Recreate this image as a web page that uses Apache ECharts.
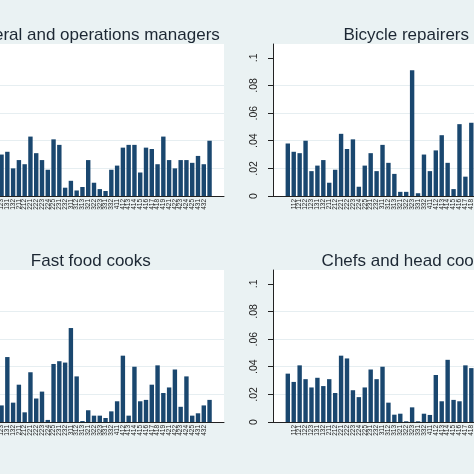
<!DOCTYPE html>
<html lang="en">
<head>
    <meta charset="UTF-8">
    <title>Occupation shares</title>
    <style>
        html, body {margin: 0; padding: 0; width: 474px; height: 474px; overflow: hidden; background: #eaf2f3;}
        #main {position: absolute; left: -60px; top: 0; width: 640px; height: 474px;}
    </style>
</head>
<body>
<div id="main"></div>
<script src="https://cdn.jsdelivr.net/npm/echarts@6/dist/echarts.min.js"></script>
<script>
    // category codes (x axis)
    var codes = ['111','112','121','122','123','131','132',
        '211','212','221','222','223','224','225','231','232',
        '311','312','313','321','322','323','331','332',
        '411','412','413','414','415','416','417','418','419','421','422','423','424','425','431','432','433'];

    var titles = ['General and operations managers', 'Bicycle repairers', 'Fast food cooks', 'Chefs and head cooks'];

    var managers = [0.028,0.035,0.024,0.041,0.030,0.032,0.020,0.026,0.023,0.043,0.031,0.026,0.019,0.041,0.037,
        0.006,0.011,0.004,0.0065,0.026,0.0096,0.005,0.0036,0.019,0.022,0.035,0.037,0.037,0.017,0.035,0.034,
        0.023,0.043,0.026,0.020,0.026,0.026,0.024,0.029,0.023,0.040];
    var bicycle = [0.038,0.032,0.031,0.040,0.018,0.022,0.026,0.0096,0.019,0.045,0.034,0.041,0.0067,0.022,0.031,
        0.018,0.037,0.024,0.016,0.003,0.003,0.091,0.002,0.030,0.018,0.033,0.044,0.024,0.005,0.052,0.014,
        0.053,0.021,0.036,0.012,0.027,0.044,0.019,0.031,0.008,0.025];
    var fastfood = [0.031,0.019,0.042,0.026,0.012,0.047,0.014,0.027,0.007,0.036,0.017,0.022,0.0015,0.042,0.044,
        0.043,0.068,0.033,0.0007,0.0085,0.0046,0.0046,0.0029,0.0077,0.015,0.048,0.0046,0.040,0.015,0.016,0.027,
        0.041,0.021,0.025,0.038,0.011,0.033,0.0046,0.0063,0.012,0.016];
    var chefs = [0.035,0.029,0.041,0.031,0.025,0.032,0.026,0.031,0.021,0.048,0.046,0.023,0.018,0.025,0.038,
        0.031,0.040,0.014,0.0053,0.006,0.0005,0.0106,0.0005,0.006,0.0051,0.034,0.015,0.045,0.016,0.015,0.041,
        0.039,0.022,0.030,0.012,0.018,0.036,0.009,0.026,0.014,0.020];

    var yTicks = [0, 0.02, 0.04, 0.06, 0.08, 0.1];

    var panels = [managers, bicycle, fastfood, chefs];
    var lefts = [17.6, 333, 17.6, 333];
    var tops = [44, 44, 270, 270];
    var plotW = 266.4, plotH = 152;

    var myChart = echarts.init(document.getElementById('main'));

    var grid = [], xAxis = [], yAxis = [], series = [], title = [];
    var idx = codes.map(function (c, i) { return i; });

    panels.forEach(function (vals, k) {
        grid.push({
            left: lefts[k], top: tops[k], width: plotW, height: plotH,
            show: true, backgroundColor: '#ffffff', borderWidth: 0
        });
        title.push({
            text: titles[k],
            left: lefts[k] + plotW / 2, top: tops[k] - 17.5,
            textAlign: 'center', padding: 0,
            textStyle: {fontFamily: 'Liberation Sans', fontSize: 17, fontWeight: 'normal', color: '#1c2733'}
        });
        xAxis.push({
            type: 'value', gridIndex: k, min: -2.5, max: 42.5,
            axisLine: {show: true, onZero: false, lineStyle: {color: '#222', width: 1}},
            axisTick: {show: false},
            splitLine: {show: false},
            axisLabel: {
                customValues: idx, rotate: 90, fontSize: 6.5, margin: 3,
                fontFamily: 'Liberation Sans', color: '#222',
                formatter: function (v) { return codes[v]; }
            }
        });
        yAxis.push({
            type: 'value', gridIndex: k, min: 0, max: 0.11,
            axisLine: {show: true, onZero: false, lineStyle: {color: '#222', width: 1}},
            axisTick: {show: true, length: 5, customValues: yTicks, lineStyle: {color: '#222'}},
            splitLine: {show: true, showMaxLine: false, lineStyle: {color: '#e6eef1', width: 1}},
            axisLabel: {
                customValues: yTicks, rotate: 90, fontSize: 10.5, margin: 13,
                fontFamily: 'Liberation Sans', color: '#222',
                formatter: function (v) { return v === 0 ? '0' : String(+v.toFixed(2)).replace('0.', '.'); }
            }
        });
        series.push({
            type: 'bar', xAxisIndex: k, yAxisIndex: k,
            barWidth: 4.4,
            itemStyle: {color: '#1a476f'},
            data: vals.map(function (v, i) { return [i, v]; })
        });
    });

    var option = {
        backgroundColor: '#eaf2f3',
        animation: false,
        title: title,
        grid: grid,
        xAxis: xAxis,
        yAxis: yAxis,
        series: series
    };

    myChart.setOption(option);
</script>
</body>
</html>
